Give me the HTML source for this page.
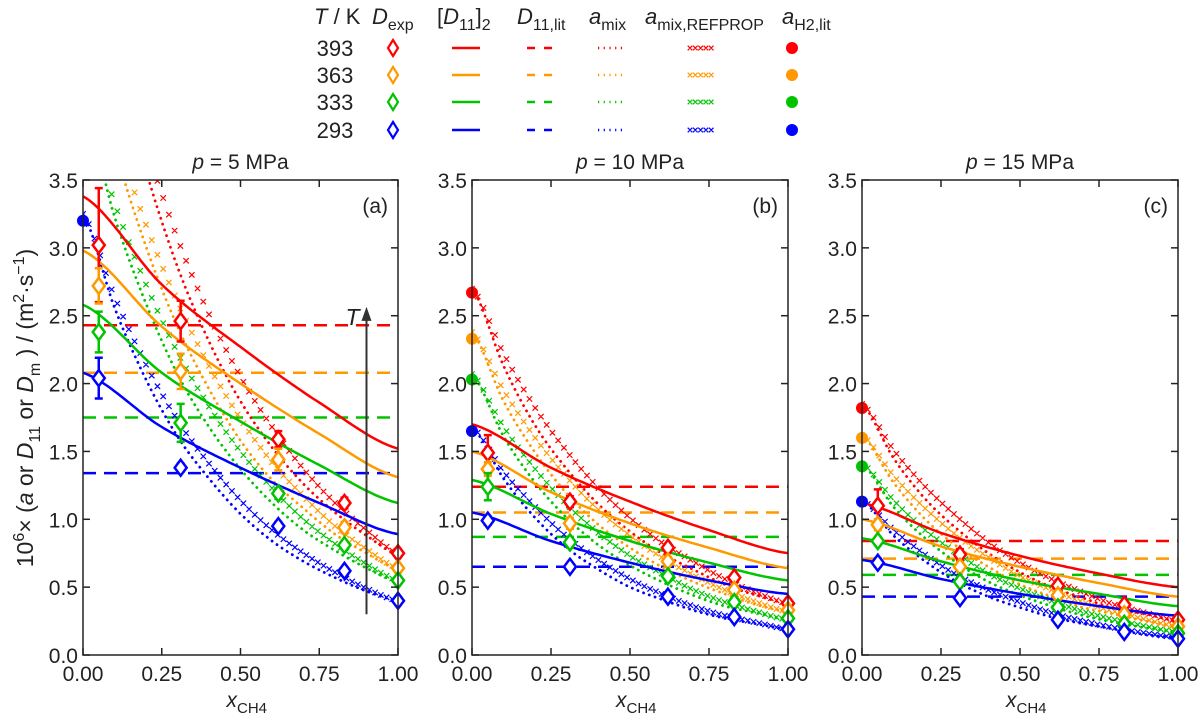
<!DOCTYPE html>
<html><head><meta charset="utf-8"><style>
html,body{margin:0;padding:0;background:#fff;}
svg{display:block;font-family:"Liberation Sans",sans-serif;}
</style></head><body>
<svg id="chart" width="1200" height="720" viewBox="0 0 1200 720" xmlns="http://www.w3.org/2000/svg"></svg>
<script>
const temps = ["393","363","333","293"];
const colors = ["#ff0000","#ff9900","#00c400","#0000ff"];
const pressures = ["p = 5 MPa","p = 10 MPa","p = 15 MPa"];
const panelTags = ["(a)","(b)","(c)"];
const yTicks = [0,0.5,1.0,1.5,2.0,2.5,3.0,3.5];
const yTickLabels = ["0.0","0.5","1.0","1.5","2.0","2.5","3.0","3.5"];
const xTicks = [0,0.25,0.5,0.75,1.0];
const xTickLabels = ["0.00","0.25","0.50","0.75","1.00"];
const xSolid = [0,0.25,0.5,0.75,1.0];
const xFine = [0,0.1,0.2,0.3,0.4,0.5,0.6,0.7,0.8,0.9,1.0];
const xExp = [0.05,0.31,0.62,0.83,1.0];
const d11_5 = [[3.38,2.73,2.27,1.86,1.52],[2.98,2.42,2.00,1.63,1.31],[2.58,2.08,1.72,1.40,1.12],[2.08,1.68,1.38,1.12,0.89]];
const d11_10 = [[1.70,1.38,1.13,0.92,0.75],[1.50,1.20,0.97,0.79,0.64],[1.29,1.04,0.84,0.68,0.55],[1.05,0.84,0.68,0.55,0.45]];
const d11_15 = [[1.12,0.90,0.73,0.60,0.50],[1.00,0.80,0.65,0.53,0.43],[0.86,0.69,0.55,0.45,0.36],[0.70,0.56,0.45,0.36,0.29]];
const lit_5 = [2.43,2.08,1.75,1.34];
const lit_10 = [1.24,1.05,0.87,0.65];
const lit_15 = [0.84,0.71,0.59,0.43];
const ref_5 = [[5.62,4.59,3.76,3.07,2.51,2.05,1.68,1.37,1.12,0.92,0.75],[4.73,3.87,3.17,2.60,2.13,1.74,1.42,1.17,0.95,0.78,0.64],[4.07,3.33,2.73,2.23,1.83,1.50,1.23,1.00,0.82,0.67,0.55],[3.25,2.64,2.14,1.73,1.41,1.14,0.92,0.75,0.61,0.49,0.40]];
const ref_10 = [[2.70,2.22,1.82,1.50,1.23,1.01,0.83,0.69,0.56,0.46,0.38],[2.38,1.95,1.60,1.31,1.07,0.88,0.72,0.59,0.48,0.39,0.32],[2.07,1.68,1.37,1.11,0.90,0.73,0.60,0.48,0.39,0.32,0.26],[1.68,1.35,1.09,0.87,0.70,0.56,0.45,0.36,0.29,0.24,0.19]];
const ref_15 = [[1.85,1.51,1.24,1.02,0.83,0.68,0.56,0.46,0.37,0.31,0.25],[1.62,1.32,1.08,0.88,0.72,0.58,0.48,0.39,0.32,0.26,0.21],[1.41,1.14,0.92,0.75,0.60,0.49,0.40,0.32,0.26,0.21,0.17],[1.14,0.92,0.74,0.59,0.48,0.39,0.31,0.25,0.20,0.16,0.13]];
const mix_5 = [[5.62,4.45,3.57,2.86,2.31,1.87,1.53,1.26,1.05,0.88,0.74],[4.73,3.75,3.01,2.42,1.96,1.58,1.29,1.08,0.89,0.75,0.63],[4.07,3.23,2.59,2.07,1.68,1.37,1.12,0.92,0.77,0.64,0.54],[3.25,2.56,2.03,1.61,1.30,1.04,0.84,0.69,0.57,0.47,0.40]];
const mix_10 = [[2.70,2.13,1.69,1.37,1.11,0.91,0.75,0.63,0.52,0.44,0.38],[2.38,1.87,1.49,1.19,0.96,0.79,0.65,0.54,0.45,0.37,0.32],[2.07,1.61,1.27,1.01,0.81,0.66,0.54,0.44,0.36,0.31,0.26],[1.68,1.30,1.01,0.79,0.63,0.50,0.41,0.33,0.27,0.23,0.19]];
const mix_15 = [[1.85,1.45,1.15,0.93,0.75,0.61,0.50,0.42,0.34,0.30,0.25],[1.62,1.27,1.00,0.80,0.65,0.52,0.43,0.35,0.30,0.25,0.21],[1.41,1.09,0.86,0.68,0.54,0.44,0.36,0.29,0.24,0.20,0.17],[1.14,0.88,0.69,0.54,0.43,0.35,0.28,0.23,0.19,0.15,0.13]];
const exp_5 = [[3.02,2.46,1.59,1.12,0.75],[2.72,2.09,1.44,0.94,0.64],[2.38,1.71,1.19,0.81,0.55],[2.04,1.38,0.95,0.62,0.40]];
const err_5 = [[0.42,0.15,0.06,0.04,0.03],[0.13,0.13,0.08,0.04,0.03],[0.15,0.14,0.04,0.03,0.02],[0.15,0.03,0.03,0.02,0.02]];
const exp_10 = [[1.49,1.13,0.79,0.57,0.38],[1.37,0.97,0.69,0.48,0.33],[1.24,0.83,0.58,0.39,0.27],[0.99,0.65,0.43,0.28,0.19]];
const err_10 = [[0.13,0.04,0.03,0.02,0.02],[0.05,0.04,0.03,0.02,0.02],[0.10,0.04,0.03,0.02,0.02],[0.03,0.02,0.02,0.02,0.02]];
const exp_15 = [[1.10,0.74,0.51,0.37,0.26],[0.96,0.65,0.44,0.30,0.21],[0.84,0.54,0.35,0.23,0.16],[0.68,0.42,0.26,0.17,0.12]];
const err_15 = [[0.12,0.04,0.03,0.02,0.02],[0.04,0.03,0.02,0.02,0.02],[0.03,0.03,0.02,0.02,0.02],[0.03,0.02,0.02,0.02,0.02]];
const h2_5 = [5.4,4.6,3.9,3.2];
const h2_10 = [2.67,2.33,2.03,1.65];
const h2_15 = [1.82,1.60,1.39,1.13];

const panels = [
 {left:83,right:398,d11:d11_5,lit:lit_5,ref:ref_5,mix:mix_5,exp:exp_5,err:err_5,h2:h2_5},
 {left:472,right:788,d11:d11_10,lit:lit_10,ref:ref_10,mix:mix_10,exp:exp_10,err:err_10,h2:h2_10},
 {left:862,right:1178,d11:d11_15,lit:lit_15,ref:ref_15,mix:mix_15,exp:exp_15,err:err_15,h2:h2_15}
];
const TOP=180, BOT=655, YMAX=3.5;
const NS="http://www.w3.org/2000/svg";
const svg=document.getElementById('chart');
function mk(tag,attrs,parent){const e=document.createElementNS(NS,tag);for(const k in attrs)e.setAttribute(k,attrs[k]);(parent||svg).appendChild(e);return e;}
function yS(v){return BOT-(v/YMAX)*(BOT-TOP);}
function interp(xs,ys,x){
  let i=0; while(i<xs.length-2 && x>xs[i+1]) i++;
  const t=(x-xs[i])/(xs[i+1]-xs[i]);
  const p0=ys[Math.max(i-1,0)],p1=ys[i],p2=ys[i+1],p3=ys[Math.min(i+2,ys.length-1)];
  const t2=t*t,t3=t2*t;
  return 0.5*((2*p1)+(-p0+p2)*t+(2*p0-5*p1+4*p2-p3)*t2+(-p0+3*p1-3*p2+p3)*t3);
}
function curvePath(xS,xs,ys){let d='';for(let k=0;k<=100;k++){const x=k/100;d+=(k?'L':'M')+xS(x).toFixed(1)+','+yS(interp(xs,ys,x)).toFixed(1);}return d;}

panels.forEach((P,pi)=>{
  const xS=v=>P.left+v*(P.right-P.left);
  const g=mk('g',{});
  
  
  const cid='clip'+pi;
  const cp=mk('clipPath',{id:cid},g); mk('rect',{x:P.left,y:TOP,width:P.right-P.left,height:BOT-TOP},cp);
  const plot=mk('g',{'clip-path':'url(#'+cid+')'},g);
  P.lit.forEach((v,ti)=>{
    const l=mk('line',{x1:P.left,x2:P.right,y1:yS(v),y2:yS(v),stroke:colors[ti],'stroke-width':2.5,'stroke-dasharray':'13 8'},plot);
    
    
  });
  P.mix.forEach((ys,ti)=>{
    const p=mk('path',{d:curvePath(xS,xFine,ys),fill:'none',stroke:colors[ti],'stroke-width':2.8,'stroke-dasharray':'0.1 6','stroke-linecap':'round'},plot);
    
    
  });
  P.ref.forEach((ys,ti)=>{
    let d='';
    for(let k=0;k<=55;k++){const x=k/55;const cx=xS(x),cy=yS(interp(xFine,ys,x));d+=`M${cx-2.7},${cy-2.7}L${cx+2.7},${cy+2.7}M${cx-2.7},${cy+2.7}L${cx+2.7},${cy-2.7}`;}
    const p=mk('path',{d:d,fill:'none',stroke:colors[ti],'stroke-width':1.2},plot);
    
    
  });
  P.d11.forEach((ys,ti)=>{
    const p=mk('path',{d:curvePath(xS,xSolid,ys),fill:'none',stroke:colors[ti],'stroke-width':2.5},plot);
    
    
  });
  P.h2.forEach((v,ti)=>{
    if(v>YMAX) return;
    const c=mk('circle',{cx:xS(0),cy:yS(v),r:6,fill:colors[ti]},g);
    
    
  });
  P.exp.forEach((ys,ti)=>{
    ys.forEach((v,k)=>{
      const cx=xS(xExp[k]),cy=yS(v),e=P.err[ti][k];
      const y1=yS(v+e),y2=yS(v-e);
      const eb=mk('path',{d:`M${cx},${y1}L${cx},${y2}M${cx-4},${y1}L${cx+4},${y1}M${cx-4},${y2}L${cx+4},${y2}`,stroke:colors[ti],'stroke-width':2.5,fill:'none'},g);
      
      
      const dm=mk('path',{d:`M${cx},${cy-8}L${cx+6},${cy}L${cx},${cy+8}L${cx-6},${cy}Z`,fill:'#fff',stroke:colors[ti],'stroke-width':2.5},g);
      
      
    });
  });
  const fr=mk('rect',{x:P.left,y:TOP,width:P.right-P.left,height:BOT-TOP,fill:'none',stroke:'#222','stroke-width':1.5},g);
  
  
  yTicks.forEach((v,i)=>{
    const y=yS(v);
    mk('line',{x1:P.left,x2:P.left+7,y1:y,y2:y,stroke:'#222','stroke-width':1.5},g);
    mk('line',{x1:P.right,x2:P.right-7,y1:y,y2:y,stroke:'#222','stroke-width':1.5},g);
    const t=mk('text',{x:P.left-5,y:y+8,'text-anchor':'end','font-size':21,fill:'#222'},g);
    t.textContent=yTickLabels[i];
    
    
  });
  xTicks.forEach((v,i)=>{
    const x=xS(v);
    mk('line',{x1:x,x2:x,y1:BOT,y2:BOT-7,stroke:'#222','stroke-width':1.5},g);
    mk('line',{x1:x,x2:x,y1:TOP,y2:TOP+7,stroke:'#222','stroke-width':1.5},g);
    const t=mk('text',{x:x,y:BOT+26,'text-anchor':'middle','font-size':21,fill:'#222'},g);
    t.textContent=xTickLabels[i];
    
    
  });
  const mid=(P.left+P.right)/2;
  const xl=mk('text',{x:mid-14,y:BOT+52,'font-size':21,fill:'#222'},g);
  xl.innerHTML='<tspan font-style="italic">x</tspan><tspan font-size="15" dy="6">CH4</tspan>';
  
  
  const tt=mk('text',{x:mid,y:TOP-11,'text-anchor':'middle','font-size':21,fill:'#222'},g);
  tt.innerHTML='<tspan font-style="italic">p</tspan> = '+pressures[pi].slice(4);
  
  
  const tg=mk('text',{x:P.right-10,y:TOP+33,'text-anchor':'end','font-size':21,fill:'#222'},g);
  tg.textContent=panelTags[pi];
  
  
  if(pi===0){
    const ax=xS(0.9);
    const ar=mk('path',{d:`M${ax},${yS(0.3)}L${ax},${yS(2.55)+8}`,stroke:'#333','stroke-width':2},g);
    
    
    mk('path',{d:`M${ax-5},${yS(2.55)+12}L${ax},${yS(2.55)-2}L${ax+5},${yS(2.55)+12}Z`,fill:'#333'},g);
    const tl=mk('text',{x:ax-21,y:yS(2.55)+16,'font-size':23,'font-style':'italic',fill:'#222'},g);
    tl.textContent='T';
    
    
  }
});
const yt=mk('text',{transform:'translate(33,408) rotate(-90)','text-anchor':'middle','font-size':23,fill:'#222'});
yt.innerHTML='10<tspan font-size="16" dy="-9">6</tspan><tspan dy="9">× (</tspan><tspan font-style="italic">a</tspan> or <tspan font-style="italic">D</tspan><tspan font-size="16" dy="7">11</tspan><tspan dy="-7"> or </tspan><tspan font-style="italic">D</tspan><tspan font-size="16" dy="7">m</tspan><tspan dy="-7"> )  / (m</tspan><tspan font-size="16" dy="-9">2</tspan><tspan dy="9">·s</tspan><tspan font-size="16" dy="-9">−1</tspan><tspan dy="9">)</tspan>';


const lg=mk('g',{});


const hdr=mk('text',{y:24,'font-size':22,fill:'#222'},lg);
hdr.innerHTML='<tspan x="314" font-style="italic">T</tspan><tspan> / K</tspan>'+
 '<tspan x="372" font-style="italic">D</tspan><tspan font-size="16" dy="6">exp</tspan>'+
 '<tspan x="437" dy="-6">[</tspan><tspan font-style="italic">D</tspan><tspan font-size="16" dy="6">11</tspan><tspan dy="-6">]</tspan><tspan font-size="16" dy="6">2</tspan>'+
 '<tspan x="517" dy="-6" font-style="italic">D</tspan><tspan font-size="16" dy="6">11,lit</tspan>'+
 '<tspan x="589" dy="-6" font-style="italic">a</tspan><tspan font-size="16" dy="6">mix</tspan>'+
 '<tspan x="645" dy="-6" font-style="italic">a</tspan><tspan font-size="16" dy="6">mix,REFPROP</tspan>'+
 '<tspan x="782" dy="-6" font-style="italic">a</tspan><tspan font-size="16" dy="6">H2,lit</tspan>';


const rowY=[48,75,102,130];
temps.forEach((t,i)=>{
  const y=rowY[i],c=colors[i];
  const row=mk('g',{},lg);
  
  
  const tx=mk('text',{x:335,y:y+8,'text-anchor':'middle','font-size':22,fill:'#222'},row);
  tx.textContent=t;
  mk('path',{d:`M393,${y-8}L398,${y}L393,${y+8}L388,${y}Z`,fill:'#fff',stroke:c,'stroke-width':2.2},row);
  mk('line',{x1:452,x2:480,y1:y,y2:y,stroke:c,'stroke-width':2.5},row);
  mk('line',{x1:527,x2:554,y1:y,y2:y,stroke:c,'stroke-width':2.5,'stroke-dasharray':'8 9'},row);
  mk('line',{x1:598,x2:626,y1:y,y2:y,stroke:c,'stroke-width':2.5,'stroke-dasharray':'1.2 4.5'},row);
  let d='';for(let k=0;k<5;k++){const cx=690+k*5.3;d+=`M${cx-2.3},${y-2.3}L${cx+2.3},${y+2.3}M${cx-2.3},${y+2.3}L${cx+2.3},${y-2.3}`;}
  mk('path',{d:d,stroke:c,'stroke-width':1.2,fill:'none'},row);
  mk('circle',{cx:792,cy:y,r:6,fill:c},row);
});
</script>
</body></html>
